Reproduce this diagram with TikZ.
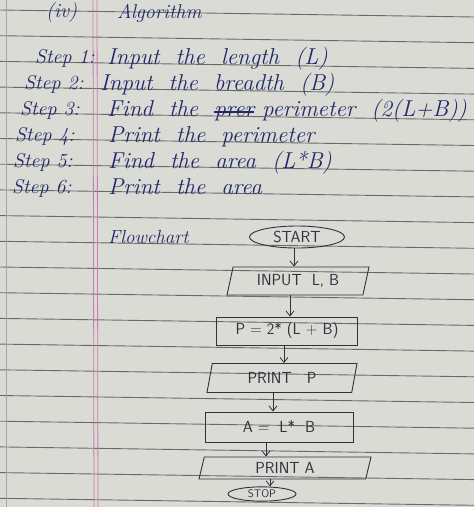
\documentclass[tikz,border=0pt]{standalone}
\usetikzlibrary{shapes.geometric,arrows.meta}
\definecolor{paper}{RGB}{219,219,213}
\definecolor{ruling}{RGB}{105,105,108}
\definecolor{marginred}{RGB}{205,120,175}
\definecolor{ink}{RGB}{32,40,105}
\definecolor{pencil}{RGB}{48,48,64}
\newcommand{\crossedword}[1]{\setbox0\hbox{#1}\rlap{\raisebox{0.3ex}{\rule{\wd0}{0.07em}}}\box0\relax}
\tikzset{
  ruleline/.style={ruling, line width=0.9pt},
  marginline/.style={marginred, line width=0.8pt},
  algtext/.style={ink, anchor=base west, inner sep=0pt, font=\fontsize{23}{26}\selectfont\itshape},
  steplabel/.style={algtext, font=\fontsize{20}{24}\selectfont\itshape},
  flowtext/.style={pencil, font=\fontsize{16}{18}\selectfont\sffamily},
  terminal/.style={flowtext, draw=pencil, line width=0.9pt, ellipse, inner sep=1pt},
  iobox/.style={flowtext, draw=pencil, line width=0.9pt, trapezium, trapezium left angle=68,
    trapezium right angle=112, trapezium stretches body, inner sep=1pt},
  process/.style={flowtext, draw=pencil, line width=0.9pt, rectangle, inner sep=1pt},
  flowarrow/.style={pencil, line width=0.8pt, -{Straight Barb[length=5pt,width=8pt]}}
}
\begin{document}
\begin{tikzpicture}[x=1pt,y=-1pt]
  \fill[paper] (0,0) rectangle (474,507);
  \useasboundingbox (0,0) rectangle (474,507);
  \foreach \k in {0,...,19}
    \draw[ruleline] (0,{10+25.7*\k}) -- (474,{17+25.7*\k});
  \draw[ruling!60, line width=0.7pt] (6,0) -- (6,507);
  \draw[marginline] (93,0) -- (94,507);
  \draw[marginline] (97,0) -- (98,507);

  \node[steplabel] (num) at (46,17) {(iv)};
  \node[algtext, font=\fontsize{20}{24}\selectfont\itshape] (title) at (117,18) {Algorithm};

  \node[steplabel] (step1) at (35,63) {Step 1:};
  \node[algtext] (text1) at (107,64) {Input \ the \ length \ (L)};
  \node[steplabel] (step2) at (24,89) {Step 2:};
  \node[algtext] (text2) at (100,90) {Input \ the \ breadth \ (B)};
  \node[steplabel] (step3) at (20,115) {Step 3:};
  \node[algtext] (text3) at (107,116) {Find \ the \ \crossedword{prer} perimeter \ (2(L+B))};
  \node[steplabel] (step4) at (15,141) {Step 4:};
  \node[algtext] (text4) at (108,142) {Print \ the \ perimeter};
  \node[steplabel] (step5) at (13,167) {Step 5:};
  \node[algtext] (text5) at (108,168) {Find \ the \ area \ (L*B)};
  \node[steplabel] (step6) at (12,193) {Step 6:};
  \node[algtext] (text6) at (108,194) {Print \ the \ area};

  \node[algtext, font=\fontsize{19}{22}\selectfont\itshape] (flow) at (108,243) {Flowchart};

  \node[terminal, minimum width=95pt, minimum height=22pt] (start) at (297,237) {START};
  \node[iobox, minimum width=142pt, minimum height=28pt] (input) at (298,281) {INPUT \ L, B};
  \node[process, minimum width=141pt, minimum height=28pt] (perim) at (287,331) {P = 2* (L + B)};
  \node[iobox, minimum width=150pt, minimum height=29pt] (printp) at (282,378) {PRINT \ \ P};
  \node[process, minimum width=148pt, minimum height=30pt] (area) at (279,427) {A = \ L* \ B};
  \node[iobox, minimum width=172pt, minimum height=22pt] (printa) at (285,468) {PRINT A};
  \node[terminal, font=\fontsize{11}{12}\selectfont\sffamily, minimum width=68pt, minimum height=13pt] (stop) at (262,494) {STOP};

  \draw[flowarrow] (start.south -| 294,0) -- (input.north -| 294,0);
  \draw[flowarrow] (input.south -| 290,0) -- (perim.north -| 290,0);
  \draw[flowarrow] (perim.south -| 284,0) -- (printp.north -| 284,0);
  \draw[flowarrow] (printp.south -| 273,0) -- (area.north -| 273,0);
  \draw[flowarrow] (area.south -| 266,0) -- (printa.north -| 266,0);
  \draw[flowarrow] (printa.south -| 270,0) -- (stop.north -| 270,0);
\end{tikzpicture}
\end{document}
